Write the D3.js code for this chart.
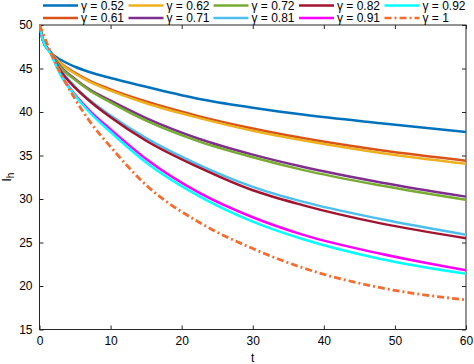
<!DOCTYPE html>
<html><head><meta charset="utf-8">
<script src="https://cdn.jsdelivr.net/npm/d3@7"></script>
<style>body{margin:0;background:#fff}svg{display:block}text{font-family:"Liberation Sans",Arial,sans-serif;fill:#000}</style>
</head><body><div id="chart"></div>
<script>
const tValues = [0, 0.5, 1.5, 3, 5, 7, 10, 15, 22.5, 30, 37, 48, 60];
const gammaLabels = ["0.52","0.61","0.62","0.71","0.72","0.81","0.82","0.91","0.92","1"];
const seriesColors = ["#0072BD","#D95319","#EDB120","#7E2F8E","#77AC30","#4DBEEE","#A2142F","#FF00FF","#00FFFF","#F56C2F"];
const s052 = [50, 48.2, 46.9, 46.0, 45.2, 44.6, 43.9, 42.9, 41.5, 40.5, 39.7, 38.7, 37.7];
const s061 = [50, 48.2, 46.9, 45.6, 44.5, 43.6, 42.6, 41.2, 39.5, 38.1, 37.0, 35.6, 34.4];
const s062 = [50, 48.2, 46.9, 45.55, 44.4, 43.5, 42.45, 41.0, 39.3, 37.85, 36.75, 35.3, 34.06];
const s071 = [50, 48.2, 46.9, 45.2, 43.8, 42.6, 41.3, 39.3, 36.9, 35.1, 33.7, 31.9, 30.27];
const s072 = [50, 48.2, 46.9, 45.1, 43.7, 42.5, 41.1, 39.0, 36.6, 34.8, 33.35, 31.55, 29.9];
const s081 = [50, 48.2, 46.9, 44.8, 42.9, 41.4, 39.6, 37.0, 33.9, 31.4, 29.7, 27.7, 25.9];
const s082 = [50, 48.2, 46.9, 44.7, 42.8, 41.3, 39.4, 36.7, 33.6, 31.0, 29.3, 27.2, 25.5];
const s091 = [50, 48.2, 46.9, 44.3, 42.0, 40.2, 38.0, 34.6, 30.7, 27.9, 25.9, 23.7, 21.8];
const s092 = [50, 48.2, 46.8, 44.2, 41.9, 40.0, 37.7, 34.2, 30.3, 27.4, 25.4, 23.1, 21.4];
const s100 = [50, 49.0, 47.0, 44.4, 41.5, 39.0, 36.0, 31.6, 27.3, 24.3, 22.1, 19.8, 18.4];
const seriesValues = [s052, s061, s062, s071, s072, s081, s082, s091, s092, s100];
const xTicks = [0,10,20,30,40,50,60];
const yTicks = [15,20,25,30,35,40,45,50];

const W = 474, H = 364;
const L = 39.5, R = 466, T = 25, B = 329.5;
const svg = d3.select("#chart").append("svg").attr("width", W).attr("height", H);
const x = d3.scaleLinear().domain([0,60]).range([L,R]);
const y = d3.scaleLinear().domain([15,50]).range([B,T]);

const axisColor = "#262626";
svg.append("rect").attr("x",L).attr("y",T).attr("width",R-L).attr("height",B-T)
  .attr("fill","none").attr("stroke",axisColor).attr("stroke-width",1);

function styleAxis(g){
  g.select(".domain").remove();
  g.selectAll(".tick line").attr("stroke",axisColor);
  g.selectAll(".tick text").attr("font-size","12px").attr("fill","#000");
}
svg.append("g").attr("transform",`translate(0,${B})`)
  .call(d3.axisBottom(x).tickValues(xTicks).tickSizeInner(-4).tickSizeOuter(0).tickPadding(7))
  .call(styleAxis);
svg.append("g").attr("transform",`translate(0,${T})`)
  .call(d3.axisTop(x).tickValues(xTicks).tickSizeInner(-4).tickSizeOuter(0).tickFormat(""))
  .call(styleAxis);
svg.append("g").attr("transform",`translate(${L},0)`)
  .call(d3.axisLeft(y).tickValues(yTicks).tickSizeInner(-4).tickSizeOuter(0).tickPadding(7))
  .call(styleAxis);
svg.append("g").attr("transform",`translate(${R},0)`)
  .call(d3.axisRight(y).tickValues(yTicks).tickSizeInner(-4).tickSizeOuter(0).tickFormat(""))
  .call(styleAxis);

const line = d3.line().x((d,i)=>x(tValues[i])).y(d=>y(d)).curve(d3.curveMonotoneX);
svg.append("clipPath").attr("id","clip").append("rect")
  .attr("x",L).attr("y",T-2).attr("width",R-L).attr("height",B-T+2);
seriesValues.forEach((vals,i)=>{
  const p = svg.append("path").attr("d",line(vals)).attr("fill","none")
    .attr("stroke",seriesColors[i]).attr("stroke-width", i===9 ? 2.8 : 2.5)
    .attr("clip-path","url(#clip)");
  if(i===9) p.attr("stroke-dasharray","7,3,2,3");
});

const colX = [43, 128.5, 213.5, 299, 384.5];
const rowY = [5.5, 18];
gammaLabels.forEach((lab,i)=>{
  const c = Math.floor(i/2), r = i%2;
  const lx = colX[c], ly = rowY[r];
  const l = svg.append("line").attr("x1",lx).attr("x2",lx+35).attr("y1",ly).attr("y2",ly)
    .attr("stroke",seriesColors[i]).attr("stroke-width",2.5);
  if(i===9) l.attr("stroke-dasharray","7,3,2,3");
  svg.append("text").attr("x",lx+38).attr("y",ly+4.3).attr("font-size","12px")
    .text("γ = " + lab);
});

svg.append("text").attr("x",(L+R)/2).attr("y",362).attr("text-anchor","middle")
  .attr("font-size","12px").text("t");
const yl = svg.append("text").attr("transform",`translate(11,${(T+B)/2}) rotate(-90)`)
  .attr("text-anchor","middle").attr("font-size","13px");
yl.append("tspan").text("I");
yl.append("tspan").attr("font-size","10px").attr("dy","3").text("h");
</script></body></html>
